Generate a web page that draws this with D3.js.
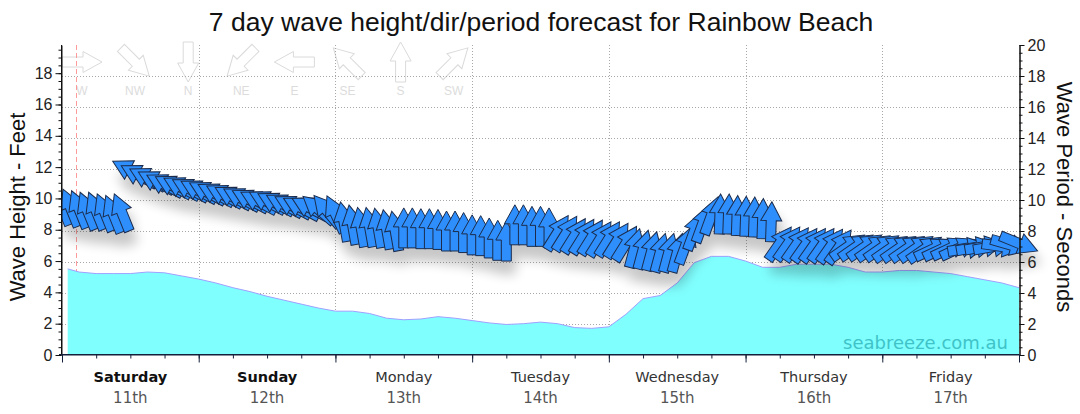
<!DOCTYPE html>
<html><head><meta charset="utf-8">
<script src="https://cdn.jsdelivr.net/npm/d3@7"></script>
<style>body{margin:0;background:#fff}svg{display:block}</style>
</head><body><svg id="c" width="1080" height="414"></svg>
<script>
// ---------------- data ----------------
const dayNames = ["Saturday","Sunday","Monday","Tuesday","Wednesday","Thursday","Friday"];
const dayDates = ["11th","12th","13th","14th","15th","16th","17th"];
const weekendDays = ["Saturday","Sunday"];
const leftTicks = [0,2,4,6,8,10,12,14,16,18];
const rightTicks = [0,2,4,6,8,10,12,14,16,18,20];
const compassNames = ["W","NW","N","NE","E","SE","S","SW"];
const compassBearings = [270,315,0,45,90,135,180,225];

// wave height (feet) – hours from Saturday 00:00
const heightHours = [1,3,6,9,12,15,18,21,24,27,30,33,36,39,42,45,48,51,54,57,60,63,66,69,72,75,78,81,84,87,90,93,96,99,102,105,108,111,114,117,120,123,126,129,132,135,138,141,144,147,150,153,156,159,162,165,168];
const heightFeet  = [5.5,5.3,5.2,5.2,5.2,5.3,5.25,5.05,4.85,4.6,4.3,4.05,3.75,3.5,3.25,3.0,2.8,2.8,2.65,2.35,2.25,2.3,2.45,2.35,2.2,2.05,1.95,2.0,2.1,2.0,1.75,1.7,1.8,2.6,3.6,3.8,4.6,5.9,6.3,6.3,6.0,5.6,5.6,5.8,5.8,5.8,5.6,5.3,5.3,5.4,5.4,5.3,5.2,5.0,4.8,4.6,4.3];

// wave period (s) and direction (deg, from) every 1.5 h
const arrowStepHours = 1.5;
const periodSec = [9.6,9.5,9.4,9.3,9.3,9.2,9.1,9.2,
 11.9,11.6,11.4,11.2,11.0,10.9,10.8,10.7,10.6,10.5,10.4,10.3,10.2,10.1,10.0,9.9,9.9,9.8,9.7,9.6,9.5,9.5,9.4,9.3,9.1,
 8.6,8.4,8.25,8.25,8.2,8.1,8.0,
 8.2,8.2,8.15,8.15,8.1,8.0,8.0,7.9,7.75,7.7,7.55,7.4,7.35,
 8.4,8.4,8.3,8.3,8.2,
 7.9,7.85,7.7,7.65,7.6,7.5,7.5,7.4,7.2,
 6.9,6.8,6.7,6.6,6.6,6.6,
 7.1,8.0,8.5,9.0,
 9.1,9.1,9.0,8.95,8.9,8.8,8.6,
 7.2,7.2,7.15,7.1,7.1,7.1,7.05,7.0,7.0,7.0,7.0,6.95,6.95,6.9,6.9,6.9,6.9,6.85,6.85,6.85,6.9,6.9,6.9,6.95,7.0,7.0,7.0,7.1,7.2];
const directionDeg = [158,158,158,158,158,158,158,158,
 118,118,118,118,118,118,118,118,118,118,118,118,118,118,118,118,118,118,118,118,118,118,
 130,140,155,
 170,170,170,170,170,170,170,
 180,180,180,180,180,180,180,180,180,180,180,180,180,180,180,180,180,180,
 212,212,212,212,212,212,212,212,212,
 195,195,195,195,195,195,
 200,200,200,200,
 182,182,182,182,182,182,182,
 215,215,215,215,215,215,215,215,
 235,235,235,235,235,235,235,235,235,235,
 245,245,245,245,
 260,260,260,260,
 278,286,292];
const nowHour = 2.5;

// ---------------- chart ----------------
const svg = d3.select("#c");
const L = 62, R = 1019, T = 45, B = 355;
const x = d3.scaleLinear().domain([0,168]).range([L,R]);
const yL = d3.scaleLinear().domain([0,19.8]).range([B,T]);
const yR = d3.scaleLinear().domain([0,20]).range([B,T]);
const sans = "'Liberation Sans', Arial, sans-serif";
const verd = "'DejaVu Sans', Verdana, sans-serif";

const defs = svg.append("defs");
const f = defs.append("filter").attr("id","sh").attr("x","-20%").attr("y","-50%").attr("width","140%").attr("height","220%");
f.append("feGaussianBlur").attr("in","SourceAlpha").attr("stdDeviation",6).attr("result","b");
f.append("feOffset").attr("in","b").attr("dx",4).attr("dy",13).attr("result","o");
f.append("feComponentTransfer").attr("in","o").attr("result","o2")
  .append("feFuncA").attr("type","linear").attr("slope",0.22);
const m = f.append("feMerge");
m.append("feMergeNode").attr("in","o2");
m.append("feMergeNode").attr("in","SourceGraphic");
defs.append("clipPath").attr("id","clipArrows").append("rect").attr("x",L).attr("y",0).attr("width",1080-L).attr("height",B);

// title
svg.append("text").attr("x",541).attr("y",31).attr("text-anchor","middle")
  .attr("font-family",sans).attr("font-size",26.5).attr("fill","#111")
  .text("7 day wave height/dir/period forecast for Rainbow Beach");

// compass legend
const arrowPts = [[-20,-5],[1,-5],[1,-10.5],[20,0],[1,10.5],[1,5],[-20,5]];
const arrowPath = d3.line()(arrowPts) + "Z";
const leg = svg.append("g");
compassNames.forEach((n,i)=>{
  const cx = 82 + i*53.1;
  leg.append("path").attr("d",arrowPath)
    .attr("transform",`translate(${cx},62) rotate(${compassBearings[i]+90})`)
    .attr("fill","#fff").attr("stroke","#dadada").attr("stroke-width",1);
  leg.append("text").attr("x",cx).attr("y",95).attr("text-anchor","middle")
    .attr("font-family",sans).attr("font-size",12).attr("fill","#dcdcdc").text(n);
});

// grid
const grid = svg.append("g").attr("stroke","#a8a8a8").attr("stroke-dasharray","1,2").attr("stroke-width",1);
rightTicks.filter(v=>v>0 && v<20).forEach(v=>{
  grid.append("line").attr("x1",L).attr("x2",R).attr("y1",Math.round(yR(v))+0.5).attr("y2",Math.round(yR(v))+0.5);
});
d3.range(1,7).forEach(d=>{
  const xx = Math.round(x(d*24))+0.5;
  grid.append("line").attr("x1",xx).attr("x2",xx).attr("y1",T).attr("y2",B);
});

// now line
svg.append("line").attr("x1",Math.round(x(nowHour))+0.5).attr("x2",Math.round(x(nowHour))+0.5)
  .attr("y1",T).attr("y2",B).attr("stroke","#ff9a9a").attr("stroke-dasharray","5,3");

// height area
const hData = heightHours.map((h,i)=>({h,v:heightFeet[i]}));
svg.append("path").datum(hData)
  .attr("d",d3.area().x(d=>x(d.h)).y0(B).y1(d=>yL(d.v)))
  .attr("fill","#80ffff").attr("fill-opacity",1);
svg.append("path").datum(hData)
  .attr("d",d3.line().x(d=>x(d.h)).y(d=>yL(d.v)))
  .attr("fill","none").attr("stroke","#a0a0ff").attr("stroke-width",1);

// watermark
svg.append("text").attr("x",1008).attr("y",349).attr("text-anchor","end")
  .attr("font-family",verd).attr("font-size",18).attr("fill","#3fc3c8").text("seabreeze.com.au");

// arrows
const aData = periodSec.map((p,i)=>({t:i*arrowStepHours,p,d:directionDeg[i]}));
const ag = svg.append("g").attr("clip-path","url(#clipArrows)").append("g").attr("filter","url(#sh)");
ag.selectAll("path").data(aData).join("path")
  .attr("d",arrowPath)
  .attr("transform",d=>`translate(${x(d.t)},${yR(d.p)}) rotate(${d.d+90})`)
  .attr("fill","#2e8ffc").attr("stroke","#1c2c4c").attr("stroke-width",1).attr("stroke-linejoin","miter");

// axes
function styleAxis(g){
  g.selectAll("path,line").attr("stroke","#111");
  g.selectAll("text").attr("font-family",sans).attr("font-size",16).attr("fill","#222");
}
const axL = svg.append("g").attr("transform",`translate(${L-0.5},0)`);
axL.call(d3.axisLeft(yL).tickValues(d3.range(0,19.8,0.5)).tickSize(3).tickSizeOuter(0).tickFormat(""));
axL.append("g").call(d3.axisLeft(yL).tickValues(leftTicks).tickSize(6).tickSizeOuter(0).tickPadding(3));
axL.select("path").attr("d",`M0,${T}V${B}`);
styleAxis(axL);
const axR = svg.append("g").attr("transform",`translate(${R+0.5},0)`);
axR.call(d3.axisRight(yR).tickValues(d3.range(0,20.01,0.5)).tickSize(3).tickSizeOuter(0).tickFormat(""));
axR.append("g").call(d3.axisRight(yR).tickValues(rightTicks).tickSize(5).tickSizeOuter(0).tickPadding(3));
styleAxis(axR);
const axB = svg.append("g").attr("transform",`translate(0,${B-0.5})`);
axB.call(d3.axisBottom(x).tickValues(d3.range(6,168,6)).tickSize(4).tickSizeOuter(0).tickFormat(""));
axB.append("g").call(d3.axisBottom(x).tickValues(d3.range(0,168.1,24)).tickSize(8).tickSizeOuter(0).tickFormat(""));
axB.selectAll("path,line").attr("stroke","#14203a");
axB.select("path").attr("d",`M${L-3},0H${R}`);

// day labels
dayNames.forEach((n,i)=>{
  const a = x(i*24), b = Math.min(x((i+1)*24), R);
  const cx = (a+b)/2;
  const wk = weekendDays.includes(n);
  svg.append("text").attr("x",cx).attr("y",382).attr("text-anchor","middle")
    .attr("font-family",verd).attr("font-size",14.5).attr("font-weight",wk?"bold":"normal")
    .attr("fill",wk?"#111":"#333").text(n);
  svg.append("text").attr("x",cx).attr("y",403).attr("text-anchor","middle")
    .attr("font-family",verd).attr("font-size",15).attr("fill","#555").text(dayDates[i]);
});

// axis titles
svg.append("text").attr("transform","translate(25,207) rotate(-90)").attr("text-anchor","middle")
  .attr("font-family",sans).attr("font-size",22).attr("fill","#111").text("Wave Height - Feet");
svg.append("text").attr("transform","translate(1057,197) rotate(90)").attr("text-anchor","middle")
  .attr("font-family",sans).attr("font-size",22).attr("fill","#111").text("Wave Period - Seconds");
</script></body></html>
